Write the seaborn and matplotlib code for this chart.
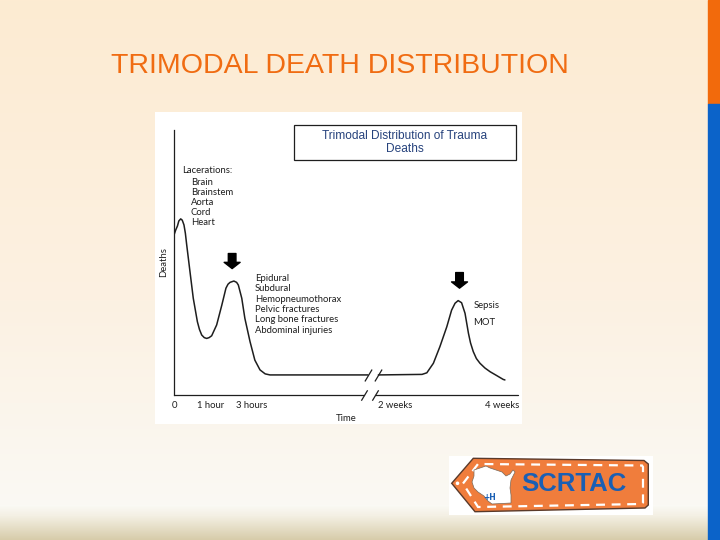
# === Imports ===
import numpy as np
import matplotlib.pyplot as plt
import seaborn as sns
from matplotlib import font_manager
from matplotlib.patches import Rectangle, Polygon, Circle
from matplotlib.path import Path

# === Data (time units 0-100 along the axis, deaths 0-100) ===
# immediate + early deaths, before the axis break
early_time = [0, 0.5, 1.0, 1.4, 1.95, 2.4, 2.9, 3.3, 3.7, 4.65, 5.6, 6.8, 7.4, 8.05,
              8.8, 9.5, 10.2, 10.95, 12.4, 13.9, 15.1, 15.7, 16.3, 17.4, 18.2,
              18.7, 19.7, 20.6, 22.1, 23.5, 25.0, 26.5, 27.9, 56.4]
early_deaths = [60.3, 62.2, 63.7, 65.6, 66.4, 65.9, 64.1, 61.0, 56.5, 46.4, 36.4,
                27.5, 24.6, 22.5, 21.5, 21.2, 21.5, 22.2, 26.3, 33.8, 40.2, 41.7,
                42.4, 42.9, 42.4, 41.4, 36.4, 28.8, 20.0, 13.0, 9.3, 7.8, 7.4, 7.4]
# late deaths, after the axis break
late_time = [59.4, 72.1, 73.5, 75.4, 77.3, 79.3, 80.7, 81.7, 82.6, 83.6, 84.6,
             85.6, 86.2, 87.0, 87.9, 88.95, 90.4, 91.9, 93.75, 95.7, 96.2]
late_deaths = [7.4, 7.6, 8.2, 11.8, 18.1, 25.6, 31.9, 34.5, 35.5, 34.7, 30.7,
               23.1, 19.5, 16.2, 13.6, 11.8, 10.0, 8.6, 7.2, 5.7, 5.5]

time_ticks = [0, 10.5, 22.6, 64.2, 95.3]
time_labels = ["0", "1 hour", "3 hours", "2 weeks", "4 weeks"]

arrow_x = [16.9, 83.0]
arrow_top = [53.3, 46.1]
arrow_tip = [47.6, 40.2]

axis_breaks = [55.1, 58.5]
curve_breaks = [56.5, 59.4]
curve_break_level = 7.4

lacerations = ["Brain", "Brainstem", "Aorta", "Cord", "Heart"]
early_causes = ["Epidural", "Subdural", "Hemopneumothorax", "Pelvic fractures",
                "Long bone fractures", "Abdominal injuries"]
late_causes = ["Sepsis", "MOT"]

# === Style ===
sns.set_theme(style="white")
plt.rcParams["font.family"] = ["Lato", "DejaVu Sans"]
names = {f.name for f in font_manager.fontManager.ttflist}
narrow = "Liberation Sans Narrow" in names
title_family = ["Liberation Sans Narrow"] if narrow else ["Liberation Sans", "DejaVu Sans"]
ink = "#1e1e1e"

fig = plt.figure(figsize=(7.2, 5.4), dpi=100)

# === Slide background (pixel coordinates) ===
slide = fig.add_axes([0, 0, 1, 1])
slide.set_xlim(0, 720)
slide.set_ylim(540, 0)
slide.axis("off")

ys = np.arange(540)
stops = [0, 300, 505, 515, 540]
r = np.interp(ys, stops, [253, 252, 250, 244, 214])
g = np.interp(ys, stops, [235, 241, 249, 240, 203])
b = np.interp(ys, stops, [210, 226, 244, 228, 168])
grad = np.stack([r, g, b], axis=-1)[:, None, :] / 255
slide.imshow(grad, extent=(0, 720, 540, 0), aspect="auto", zorder=0)

slide.add_patch(Rectangle((708, 0), 12, 104, color="#F26A0C", zorder=1))
slide.add_patch(Rectangle((708, 104), 12, 436, color="#0B63C9", zorder=1))

slide.text(340, 66, "TRIMODAL DEATH DISTRIBUTION", ha="center", va="center",
           color="#F06C12", fontsize=24 if narrow else 20.5, family=title_family)

# picture frame + boxed caption
slide.add_patch(Rectangle((155, 112), 367, 312, fc="white", ec="none", zorder=1))
slide.add_patch(Rectangle((294.3, 124.7), 221.4, 35, fill=False, ec=ink, lw=0.9, zorder=3))
slide.text(405, 142.5, "Trimodal Distribution of Trauma\nDeaths", ha="center", va="center",
           color="#26427c", fontsize=8.6, family=["Liberation Sans", "DejaVu Sans"],
           linespacing=1.15, zorder=4)

# === SCRTAC logo ===
slide.add_patch(Rectangle((449, 456), 204, 59, fc="white", ec="none", zorder=1))
tag = [(451.7, 483.3), (473.3, 458.3), (644, 460.5), (648.3, 464), (648.3, 505),
       (645, 508), (475, 511.7)]
slide.add_patch(Polygon(tag, closed=True, fc="#F07D3C", ec="#5a3a2a", lw=1, zorder=2))
inner = [(463, 483.5), (478, 464), (642, 465.5), (643, 467), (643, 502.5), (641, 504),
         (478, 507)]
slide.add_patch(Polygon(inner, closed=True, fill=False, ec="white", lw=1.6,
                        ls=(0, (4, 3)), zorder=3))
slide.add_patch(Circle((457.5, 483.3), 1.8, fc="white", ec="none", zorder=3))
wisc = [(474, 470), (480, 468), (486, 466), (490, 468), (496, 470), (502, 472),
        (506, 476), (510, 474), (513, 470), (515, 472), (511, 480), (510, 488),
        (511, 495), (511, 503), (492, 504), (488, 501), (484, 496), (478, 492),
        (474, 488), (472, 482), (474, 476)]
slide.add_patch(Polygon(wisc, closed=True, fc="white", ec="#7a6a5a", lw=0.5, zorder=4))
slide.text(490, 498, "+H", ha="center", va="center", color="#1a5fb4", fontsize=5.5,
           fontweight="bold", family=["DejaVu Sans"], zorder=5)
slide.text(574, 484, "SCRTAC", ha="center", va="center", color="#1a5fb4",
           fontsize=22.5 if narrow else 18.5, fontweight="bold",
           family=title_family, zorder=5)

# === Chart ===
ax = fig.add_axes([174 / 720, (540 - 394.5) / 540, 344 / 720, 264.5 / 540])
ax.patch.set_alpha(0)
ax.set_xlim(0, 100)
ax.set_ylim(0, 100)

sns.lineplot(x=early_time, y=early_deaths, ax=ax, color=ink, lw=1.1)
sns.lineplot(x=late_time, y=late_deaths, ax=ax, color=ink, lw=1.1)

sns.despine(ax=ax)
ax.spines["left"].set_color(ink)
ax.spines["left"].set_linewidth(0.9)
ax.spines["bottom"].set_visible(False)
ax.axhline(0, 0, axis_breaks[0] / 100, color=ink, lw=0.9, clip_on=False)
ax.axhline(0, axis_breaks[1] / 100, 1, color=ink, lw=0.9, clip_on=False)

slash = Path([(-0.3, -0.5), (0.3, 0.5)], [Path.MOVETO, Path.LINETO])
ax.plot(axis_breaks, [0, 0], ls="none", marker=slash, ms=7.5, mew=0.9,
        mec=ink, clip_on=False)
ax.plot(curve_breaks, [curve_break_level] * 2, ls="none", marker=slash, ms=8.6,
        mew=0.9, mec=ink)

for x, top, tip in zip(arrow_x, arrow_top, arrow_tip):
    ax.annotate("", xy=(x, tip), xytext=(x, top),
                arrowprops=dict(arrowstyle="simple,head_length=0.45,head_width=1.15,tail_width=0.55",
                                fc="black", ec="black", mutation_scale=10,
                                shrinkA=0, shrinkB=0))

ax.set_yticks([])
ax.set_xticks(time_ticks, time_labels)
ax.tick_params(axis="x", length=0, pad=4.5, labelsize=6.8, colors=ink)
ax.set_xlabel("Time", fontsize=6.8, color=ink, labelpad=3)
ax.set_ylabel("Deaths", fontsize=6.8, color=ink, labelpad=4)

# cause annotations
txt = dict(fontsize=6.8, color=ink, va="center", textcoords="offset points")
ax.annotate("Lacerations:", (2.4, 84.6), xytext=(0, 0), **txt)
for i, name in enumerate(lacerations):
    ax.annotate(name, (4.85, 80.1), xytext=(0, -7.2 * i), **txt)
for i, name in enumerate(early_causes):
    ax.annotate(name, (23.5, 43.8), xytext=(0, -7.4 * i), **txt)
for i, name in enumerate(late_causes):
    ax.annotate(name, (87.0, 33.7), xytext=(0, -12.5 * i), **txt)

plt.savefig("out.png", dpi=100)
plt.close()
